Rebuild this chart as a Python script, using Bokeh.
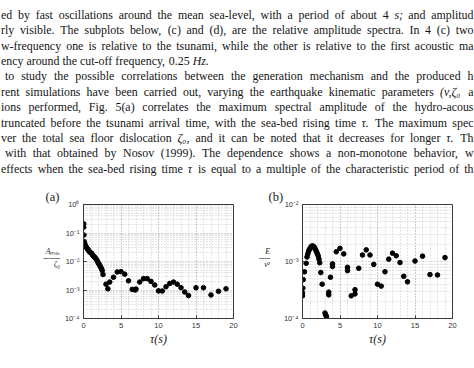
from bokeh.plotting import figure
from bokeh.models import (Range1d, SingleIntervalTicker, FixedTicker,
                          CustomJSTickFormatter, ColumnDataSource)
from bokeh.layouts import column, row
from bokeh.embed import file_html
from bokeh.resources import INLINE
from bokeh.core.properties import value

# ---------------- text of the page ----------------
text_lines = [
    "ed by fast oscillations around the mean sea-level, with a period of about 4 s; and amplitud",
    "rly visible. The subplots below, (c) and (d), are the relative amplitude spectra. In 4 (c) two",
    "w-frequency one is relative to the tsunami, while the other is relative to the first acoustic ma",
    "ency around the cut-off frequency, 0.25 Hz.",
    " to study the possible correlations between the generation mechanism and the produced h",
    "rent simulations have been carried out, varying the earthquake kinematic parameters (v,ζ₀ a",
    "ions performed, Fig. 5(a) correlates the maximum spectral amplitude of the hydro-acous",
    "truncated before the tsunami arrival time, with the sea-bed rising time τ. The maximum spec",
    "ver the total sea floor dislocation ζ₀, and it can be noted that it decreases for longer τ. Th",
    " with that obtained by Nosov (1999). The dependence shows a non-monotone behavior, w",
    "effects when the sea-bed rising time τ is equal to a multiple of the characteristic period of th",
]
italic_words = ["s;", "Hz.", "(v,ζ₀", "τ.", "τ", "ζ₀,"]

# ---------------- data ----------------
tau_a = [0.03, 0.03, 0.05, 0.08, 0.12, 0.2, 0.3, 0.4, 0.5, 0.6, 0.7, 0.8, 0.9, 1.0,
         1.1, 1.2, 1.3, 1.4, 1.5, 1.6, 1.7, 1.8, 1.9, 2.0, 2.1, 2.2, 2.3, 2.4, 2.5,
         2.6, 3.0, 3.25, 3.5, 4.0, 4.5, 5.0, 5.5, 6.0, 6.5, 6.9, 7.0, 7.5, 8.0, 8.5,
         9.0, 9.5, 10.0, 10.5, 11.0, 11.5, 12.0, 12.5, 13.0, 13.5, 14.0, 15.0, 16.0,
         17.0, 18.0, 19.0]
amp_a = [0.21, 0.16, 0.085, 0.05, 0.045, 0.040, 0.035, 0.031, 0.028, 0.026, 0.024,
         0.022, 0.021, 0.020, 0.019, 0.017, 0.016, 0.015, 0.014, 0.013, 0.012, 0.011,
         0.0097, 0.0087, 0.0078, 0.0070, 0.0063, 0.0056, 0.0048, 0.0035, 0.0016,
         0.0011, 0.0019, 0.0028, 0.0043, 0.0044, 0.0036, 0.0021, 0.00105, 0.0010,
         0.00108, 0.0019, 0.0025, 0.0025, 0.0020, 0.0015, 0.00093, 0.00092, 0.0013,
         0.0017, 0.0019, 0.0016, 0.0012, 0.00085, 0.00064, 0.0012, 0.0012, 0.00067,
         0.00090, 0.0011]

tau_b = [0.0, 0.0, 0.05, 0.1, 0.27, 0.49, 0.6, 0.7, 0.8, 0.9, 1.0, 1.1, 1.2, 1.3,
         1.4, 1.5, 1.6, 1.7, 1.8, 1.9, 2.0, 2.1, 2.2, 2.3, 2.44, 2.62, 3.0, 3.1, 3.2,
         3.5, 3.5, 3.73, 4.0, 4.0, 4.5, 5.0, 5.5, 6.0, 6.0, 6.5, 7.0, 7.0, 7.5, 8.0,
         8.5, 9.0, 9.5, 10.0, 10.5, 11.0, 11.5, 12.0, 12.5, 13.0, 13.5, 14.0, 15.0,
         16.0, 17.0, 18.0, 19.0]
energy_b = [2.5e-4, 2.8e-4, 3.4e-4, 4.8e-4, 6.6e-4, 9.3e-4, 1.2e-3, 1.35e-3, 1.5e-3,
            1.6e-3, 1.7e-3, 1.78e-3, 1.84e-3, 1.87e-3, 1.86e-3, 1.82e-3, 1.75e-3,
            1.65e-3, 1.55e-3, 1.45e-3, 1.35e-3, 1.25e-3, 1.1e-3, 9.5e-4, 6.4e-4,
            4.0e-4, 1.25e-4, 1.15e-4, 1.08e-4, 2.9e-4, 2.6e-4, 5.3e-4, 9.1e-4, 8.2e-4,
            1.48e-3, 1.7e-3, 1.36e-3, 7.9e-4, 6.9e-4, 2.5e-4, 3.2e-4, 2.7e-4, 7.6e-4,
            1.3e-3, 1.6e-3, 1.3e-3, 8.9e-4, 4.0e-4, 3.7e-4, 6.6e-4, 1.1e-3, 1.4e-3,
            1.26e-3, 9.6e-4, 5.5e-4, 4.4e-4, 1.02e-3, 1.24e-3, 5.9e-4, 5.8e-4, 1.17e-3]

panel_a_label = "(a)"
panel_b_label = "(b)"
x_label = "τ(s)"
y_label_a = "Aₘₐₓ\n───\nζ₀\n "
y_label_b = "E\n──\nv²\n "

SERIF = "Liberation Serif"
SANS = "Liberation Sans"

# Times (Liberation Serif) advance widths, 1/1000 em, used to justify the lines
ADV = {" ": 250, "(": 333, ")": 333, ",": 250, "-": 333, ".": 250, ";": 278, ":": 278,
       "A": 722, "F": 556, "H": 722, "I": 333, "N": 722, "T": 611,
       "a": 444, "b": 500, "c": 444, "d": 500, "e": 444, "f": 333, "g": 500, "h": 500,
       "i": 278, "j": 278, "k": 500, "l": 278, "m": 778, "n": 500, "o": 500, "p": 500,
       "q": 500, "r": 333, "s": 389, "t": 278, "u": 500, "v": 500, "w": 722, "x": 500,
       "y": 500, "z": 444, "ζ": 440, "τ": 440, "₀": 330}


def units(s):
    return sum(ADV.get(c, 500) for c in s)


FS = 11.9
X_LEFT, X_RIGHT = 0.5, 473.0
wx, wy, wt, wfs, wst, walign = [], [], [], [], [], []
for i, line in enumerate(text_lines):
    x0 = X_LEFT + (4.0 if line.startswith(" ") else 0.0)
    words = line.split()
    tot = sum(units(w) for w in words)
    fs = FS
    if i == 3:
        gap = 250 * fs / 1000
    else:
        span = X_RIGHT - x0
        gap = (span - tot * fs / 1000) / (len(words) - 1)
        if gap < 0.22 * fs:
            fs = span / (tot / 1000 + 0.22 * (len(words) - 1))
            gap = 0.22 * fs
    y = 10.7 + 15.37 * i + 3.8
    x = x0
    for j, w in enumerate(words):
        last = (j == len(words) - 1) and i != 3
        wx.append(X_RIGHT if last else x)
        walign.append("right" if last else "left")
        wy.append(y)
        wt.append(w)
        wfs.append(f"{fs:.2f}px")
        wst.append("italic" if w in italic_words else "normal")
        x += units(w) * fs / 1000 + gap

src = ColumnDataSource(dict(x=wx, y=wy, text=wt, fs=wfs, st=wst, al=walign))

tf = figure(width=474, height=184, x_range=Range1d(0, 474), y_range=Range1d(184, 0),
            output_backend="svg", toolbar_location=None, min_border=0,
            x_axis_location=None, y_axis_location=None)
tf.grid.visible = False
tf.outline_line_color = None
tf.text(x="x", y="y", text="text", source=src, text_font=value(SERIF),
        text_font_size="fs", text_font_style="st", text_align="al",
        text_baseline="alphabetic", text_color="#151515")

superscript_js = """
const e = Math.round(Math.log10(tick));
const sup = {"-": "\u207b", "0": "\u2070", "1": "\u00b9", "2": "\u00b2", "3": "\u00b3", "4": "\u2074"};
return "10" + String(e).split("").map(c => sup[c]).join("");
"""


def make_panel(width, border_left, border_right, y_lo, y_hi, tau, vals,
               title, title_offset, ylabel, ylabel_standoff):
    p = figure(width=width, height=184, y_axis_type="log",
               x_range=Range1d(0, 20), y_range=Range1d(y_lo, y_hi),
               output_backend="svg", toolbar_location=None,
               min_border_left=border_left, min_border_right=border_right,
               min_border_top=20, min_border_bottom=50)
    p.background_fill_color = "white"
    p.border_fill_color = "white"
    p.outline_line_color = "#3a3a3a"
    p.outline_line_width = 1

    p.title.text = title
    p.title.align = "left"
    p.title.offset = title_offset
    p.title.standoff = 1
    p.title.text_font = SERIF
    p.title.text_font_style = "normal"
    p.title.text_font_size = "12.5px"
    p.title.text_color = "#1a1a1a"

    xt = SingleIntervalTicker(interval=5, num_minor_ticks=5)
    p.xaxis.ticker = xt
    p.xgrid.ticker = xt
    decades, minors = [], []
    e = y_lo
    while e <= y_hi * 1.0001:
        decades.append(e)
        for m in range(2, 10):
            if e * m < y_hi:
                minors.append(e * m)
        e *= 10
    yt = FixedTicker(ticks=decades, minor_ticks=minors)
    p.yaxis.ticker = yt
    p.ygrid.ticker = yt
    p.yaxis.formatter = CustomJSTickFormatter(code=superscript_js)

    for ax in (p.xaxis, p.yaxis):
        ax.axis_line_color = "#3a3a3a"
        ax.major_tick_in = 3
        ax.major_tick_out = 0
        ax.minor_tick_in = 0
        ax.minor_tick_out = 0
        ax.major_tick_line_color = "#3a3a3a"
        ax.major_label_text_font = SANS
        ax.major_label_text_font_size = "7.5px"
        ax.major_label_text_color = "#333333"
    p.xaxis.major_label_standoff = 4
    p.yaxis.major_label_standoff = 4
    p.xaxis.axis_label = x_label
    p.xaxis.axis_label_text_font = SERIF
    p.xaxis.axis_label_text_font_style = "italic"
    p.xaxis.axis_label_text_font_size = "12px"
    p.xaxis.axis_label_text_color = "#222222"
    p.xaxis.axis_label_standoff = 1

    p.yaxis.axis_label = ylabel
    p.yaxis.axis_label_orientation = "horizontal"
    p.yaxis.axis_label_text_font = SERIF
    p.yaxis.axis_label_text_font_style = "italic"
    p.yaxis.axis_label_text_font_size = "7.8px"
    p.yaxis.axis_label_text_color = "#222222"
    p.yaxis.axis_label_text_line_height = 0.72
    p.yaxis.axis_label_standoff = ylabel_standoff

    for g in (p.xgrid, p.ygrid):
        g.grid_line_color = "#9a9a9a"
        g.grid_line_dash = "1 2"
        g.grid_line_width = 0.7
        g.minor_grid_line_color = "#b5b5b5"
        g.minor_grid_line_dash = "1 2"
        g.minor_grid_line_width = 0.7

    p.scatter(tau, vals, size=4.6, color="black", marker="circle")
    return p


pa = make_panel(240, 83, 7, 1e-4, 1.0, tau_a, amp_a, panel_a_label, -38, y_label_a, 2)
pb = make_panel(234, 62, 22, 1e-4, 1e-2, tau_b, energy_b, panel_b_label, -34, y_label_b, 11)

layout = column(tf, row(pa, pb, spacing=0), spacing=0)
open("out.html", "w").write(file_html(layout, INLINE))
